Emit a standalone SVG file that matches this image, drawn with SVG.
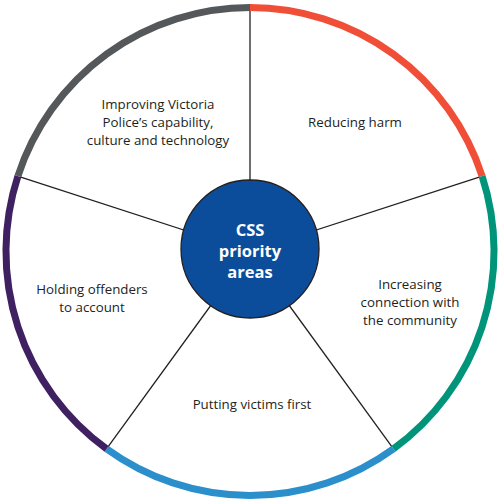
<svg xmlns="http://www.w3.org/2000/svg" width="501" height="503" viewBox="0 0 501 503">
<style>
.lbl{font-family:"Open Sans","Noto Sans",sans-serif;font-size:13.3px;fill:#231f20;text-anchor:middle}
.ctr{font-family:"Open Sans","Noto Sans",sans-serif;font-size:16.5px;font-weight:bold;fill:#ffffff;text-anchor:middle}
.spoke{stroke:#231f20;stroke-width:1.3;fill:none}
.arc{fill:none;stroke-width:7}
</style>
<rect width="501" height="503" fill="#ffffff"/>
<g id="connectors">
<line class="spoke" x1="250" y1="251.5" x2="250" y2="9"/>
<line class="spoke" x1="250" y1="251.5" x2="480" y2="176.8"/>
<line class="spoke" x1="250" y1="251.5" x2="392.2" y2="447.2"/>
<line class="spoke" x1="250" y1="251.5" x2="107.8" y2="447.2"/>
<line class="spoke" x1="250" y1="251.5" x2="20" y2="176.8"/>
</g>
<g id="ring">
<path class="arc" stroke="#f04e37" d="M250 7.5 A244 244 0 0 1 482.1 176.1"/>
<path class="arc" stroke="#00957a" d="M482.1 176.1 A244 244 0 0 1 393.4 448.9"/>
<path class="arc" stroke="#2a8fcb" d="M393.4 448.9 A244 244 0 0 1 106.6 448.9"/>
<path class="arc" stroke="#3f2161" d="M106.6 448.9 A244 244 0 0 1 17.9 176.1"/>
<path class="arc" stroke="#54585a" d="M17.9 176.1 A244 244 0 0 1 250 7.5"/>
</g>
<g id="center">
<circle cx="250" cy="249" r="69" fill="#0c4d9b" stroke="#231f20" stroke-width="1.3"/>
<text class="ctr" x="250" y="236">CSS</text>
<text class="ctr" x="250" y="257">priority</text>
<text class="ctr" x="250" y="278">areas</text>
</g>
<g id="node-capability">
<text class="lbl" x="158" y="109">Improving Victoria</text>
<text class="lbl" x="158" y="127">Police’s capability,</text>
<text class="lbl" x="158" y="145">culture and technology</text>
</g>
<g id="node-harm">
<text class="lbl" x="355" y="127">Reducing harm</text>
</g>
<g id="node-community">
<text class="lbl" x="410" y="289">Increasing</text>
<text class="lbl" x="410" y="307">connection with</text>
<text class="lbl" x="410" y="325">the community</text>
</g>
<g id="node-offenders">
<text class="lbl" x="92" y="294">Holding offenders</text>
<text class="lbl" x="92" y="312">to account</text>
</g>
<g id="node-victims">
<text class="lbl" x="252" y="409">Putting victims first</text>
</g>
</svg>
